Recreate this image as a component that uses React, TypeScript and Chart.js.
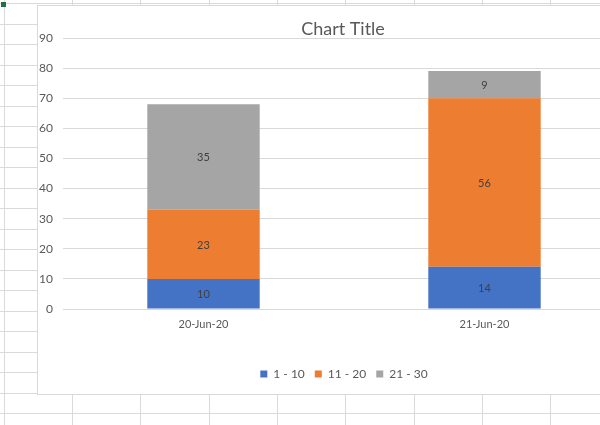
import React, { useEffect, useRef } from "react";
import { Chart, registerables } from "chart.js";

Chart.register(...registerables);

const categories = ["20-Jun-20", "21-Jun-20"];
const seriesNames = ["1 - 10", "11 - 20", "21 - 30"];
const series1 = [10, 14];
const series2 = [23, 56];
const series3 = [35, 9];
const seriesColors = ["#4472C4", "#ED7D31", "#A5A5A5"];
const yMin = 0;
const yMax = 90;
const yStep = 10;
const chartTitle = "Chart Title";

const FONT = "Lato, 'Open Sans', sans-serif";
const CANVAS_W = 660;
const CANVAS_H = 425;

const sheetPlugin = {
  id: "sheetBackground",
  beforeDraw(chart: any) {
    const ctx = chart.ctx;
    const w = chart.width;
    const h = chart.height;
    ctx.save();
    ctx.fillStyle = "#FFFFFF";
    ctx.fillRect(0, 0, w, h);
    ctx.strokeStyle = "#DADADA";
    ctx.lineWidth = 1;
    for (let x = 3.7; x < w; x += 68.3) {
      const px = Math.round(x) + 0.5;
      ctx.beginPath();
      ctx.moveTo(px, 0);
      ctx.lineTo(px, h);
      ctx.stroke();
    }
    for (let y = 3.3; y < h; y += 20.5) {
      const py = Math.round(y) + 0.5;
      ctx.beginPath();
      ctx.moveTo(0, py);
      ctx.lineTo(w, py);
      ctx.stroke();
    }
    ctx.fillStyle = "#217346";
    ctx.fillRect(1, 2, 5, 5);
    // chart box
    ctx.fillStyle = "#FFFFFF";
    ctx.fillRect(37, 5, 612, 390);
    ctx.strokeStyle = "#D9D9D9";
    ctx.strokeRect(37.5, 5.5, 612, 389);
    ctx.restore();
  },
};

const legendShiftPlugin = {
  id: "legendShift",
  afterLayout(chart: any) {
    const lg = chart.legend;
    if (lg) {
      lg.left += 26;
    }
  },
};

const titlePlugin = {
  id: "excelTitle",
  afterDraw(chart: any) {
    const ctx = chart.ctx;
    ctx.save();
    ctx.font = `18px ${FONT}`;
    ctx.fillStyle = "#595959";
    ctx.textAlign = "center";
    ctx.textBaseline = "middle";
    ctx.fillText(chartTitle, 343, 29);
    ctx.restore();
  },
};

const dataLabelPlugin = {
  id: "segmentLabels",
  afterDatasetsDraw(chart: any) {
    const ctx = chart.ctx;
    ctx.save();
    ctx.font = `11px ${FONT}`;
    ctx.fillStyle = "#404040";
    ctx.textAlign = "center";
    ctx.textBaseline = "middle";
    chart.data.datasets.forEach((ds: any, di: number) => {
      const meta = chart.getDatasetMeta(di);
      meta.data.forEach((el: any, i: number) => {
        const { x, y, base } = el.getProps(["x", "y", "base"], true);
        ctx.fillText(String(ds.data[i]), x, (y + base) / 2 + 1);
      });
    });
    ctx.restore();
  },
};

export default function App() {
  const ref = useRef<HTMLCanvasElement | null>(null);

  useEffect(() => {
    if (!ref.current) return;
    const values = [series1, series2, series3];
    const chart = new Chart(ref.current, {
      type: "bar",
      data: {
        labels: categories,
        datasets: seriesNames.map((name, i) => ({
          label: name,
          data: values[i],
          backgroundColor: seriesColors[i],
          borderWidth: 0,
          barPercentage: 0.4,
          categoryPercentage: 1,
        })),
      },
      options: {
        responsive: false,
        animation: false,
        devicePixelRatio: 1,
        layout: { padding: { left: 37, right: CANVAS_W - 625, top: 38, bottom: 35 } },
        scales: {
          x: {
            stacked: true,
            grid: { display: false, drawTicks: false },
            border: { display: false },
            ticks: { color: "#595959", font: { family: FONT, size: 11 }, padding: 9, maxRotation: 0 },
            afterFit: (s: any) => {
              s.height = 49;
            },
          },
          y: {
            stacked: true,
            min: yMin,
            max: yMax,
            ticks: { stepSize: yStep, color: "#595959", font: { family: FONT, size: 12 }, padding: 10 },
            grid: { color: "#D9D9D9", drawTicks: false },
            border: { display: false },
            afterFit: (s: any) => {
              s.width = 26;
            },
          },
        },
        plugins: {
          title: { display: false },
          tooltip: { enabled: false },
          legend: {
            position: "bottom",
            labels: {
              boxWidth: 7,
              boxHeight: 7,
              padding: 10,
              color: "#595959",
              font: { family: FONT, size: 12 },
            },
          },
        },
      },
      plugins: [sheetPlugin, legendShiftPlugin, titlePlugin, dataLabelPlugin],
    });
    return () => chart.destroy();
  }, []);

  return (
    <div style={{ position: "absolute", left: 0, top: 0, width: 600, height: 425, overflow: "hidden" }}>
      <canvas ref={ref} width={CANVAS_W} height={CANVAS_H} style={{ display: "block", width: CANVAS_W, height: CANVAS_H }} />
    </div>
  );
}
